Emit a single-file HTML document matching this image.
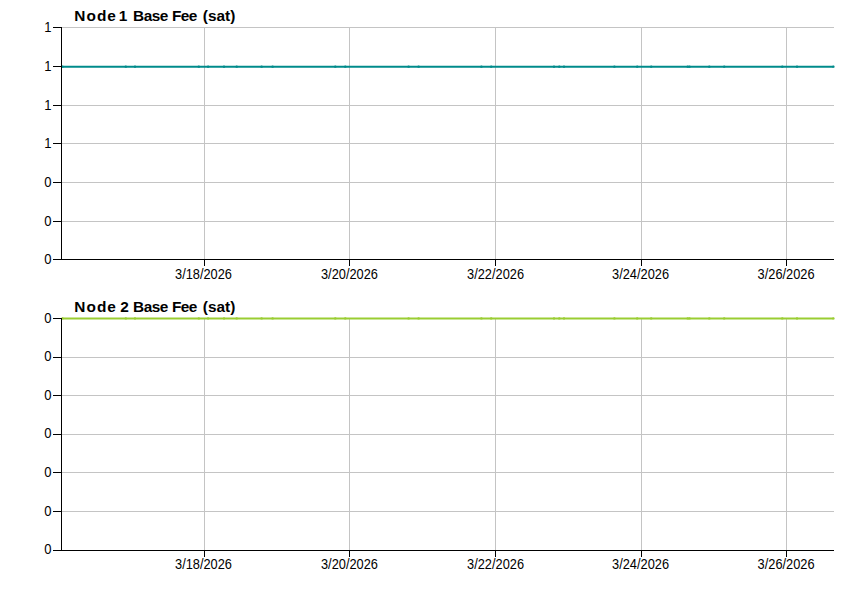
<!DOCTYPE html>
<html lang="en">
<head>
<meta charset="utf-8">
<title>Node Base Fee</title>
<style>
html,body{margin:0;padding:0;background:#fff;}
body{width:860px;height:600px;overflow:hidden;}
svg{display:block;}
text{font-family:"Liberation Sans",sans-serif;fill:#000;}
.t{font-weight:bold;font-size:15.4px;}
.l{font-size:14px;}
</style>
</head>
<body>
<svg width="860" height="600" viewBox="0 0 860 600">
<rect x="0" y="0" width="860" height="600" fill="#fff"/>
<g shape-rendering="crispEdges">
<rect x="204" y="27" width="1" height="232" fill="#c4c4c4"/>
<rect x="349" y="27" width="1" height="232" fill="#c4c4c4"/>
<rect x="495" y="27" width="1" height="232" fill="#c4c4c4"/>
<rect x="641" y="27" width="1" height="232" fill="#c4c4c4"/>
<rect x="786" y="27" width="1" height="232" fill="#c4c4c4"/>
<rect x="62" y="27" width="772" height="1" fill="#c4c4c4"/>
<rect x="62" y="66" width="772" height="1" fill="#c4c4c4"/>
<rect x="62" y="105" width="772" height="1" fill="#c4c4c4"/>
<rect x="62" y="143" width="772" height="1" fill="#c4c4c4"/>
<rect x="62" y="182" width="772" height="1" fill="#c4c4c4"/>
<rect x="62" y="221" width="772" height="1" fill="#c4c4c4"/>
</g>
<line x1="62" y1="66.67" x2="833.6" y2="66.67" stroke="#008B8B" stroke-width="2"/>
<g fill="#008B8B">
<circle cx="62.5" cy="66.67" r="1.2"/>
<circle cx="125.8" cy="66.67" r="1.2"/>
<circle cx="135" cy="66.67" r="1.2"/>
<circle cx="198.8" cy="66.67" r="1.2"/>
<circle cx="208.1" cy="66.67" r="1.2"/>
<circle cx="224" cy="66.67" r="1.2"/>
<circle cx="236.7" cy="66.67" r="1.2"/>
<circle cx="261.6" cy="66.67" r="1.2"/>
<circle cx="272.6" cy="66.67" r="1.2"/>
<circle cx="335.3" cy="66.67" r="1.2"/>
<circle cx="345.3" cy="66.67" r="1.2"/>
<circle cx="408.6" cy="66.67" r="1.2"/>
<circle cx="418.6" cy="66.67" r="1.2"/>
<circle cx="481.4" cy="66.67" r="1.2"/>
<circle cx="491.2" cy="66.67" r="1.2"/>
<circle cx="554" cy="66.67" r="1.2"/>
<circle cx="559.3" cy="66.67" r="1.2"/>
<circle cx="564" cy="66.67" r="1.2"/>
<circle cx="614.4" cy="66.67" r="1.2"/>
<circle cx="637.2" cy="66.67" r="1.2"/>
<circle cx="651.2" cy="66.67" r="1.2"/>
<circle cx="687.7" cy="66.67" r="1.2"/>
<circle cx="689.5" cy="66.67" r="1.2"/>
<circle cx="709.3" cy="66.67" r="1.2"/>
<circle cx="724.2" cy="66.67" r="1.2"/>
<circle cx="782.3" cy="66.67" r="1.2"/>
<circle cx="797" cy="66.67" r="1.2"/>
<circle cx="833.4" cy="66.67" r="1.2"/>
</g>
<g shape-rendering="crispEdges" fill="#000">
<rect x="61" y="27" width="1" height="233"/>
<rect x="53" y="259" width="781" height="1"/>
<rect x="53" y="27" width="8" height="1"/>
<rect x="53" y="66" width="8" height="1"/>
<rect x="53" y="105" width="8" height="1"/>
<rect x="53" y="143" width="8" height="1"/>
<rect x="53" y="182" width="8" height="1"/>
<rect x="53" y="221" width="8" height="1"/>
<rect x="204" y="260" width="1" height="6"/>
<rect x="349" y="260" width="1" height="6"/>
<rect x="495" y="260" width="1" height="6"/>
<rect x="641" y="260" width="1" height="6"/>
<rect x="786" y="260" width="1" height="6"/>
</g>
<text class="t" y="21"><tspan x="74.3" letter-spacing="1.05">Node </tspan><tspan x="118.8" letter-spacing="0">1 </tspan><tspan x="133.1" letter-spacing="-0.53">Base </tspan><tspan x="172.0" letter-spacing="-0.55">Fee </tspan><tspan x="202.8" letter-spacing="0">(sat)</tspan></text>
<text class="l" text-anchor="end" transform="translate(51.6 32) scale(0.93 1)">1</text>
<text class="l" text-anchor="end" transform="translate(51.6 71) scale(0.93 1)">1</text>
<text class="l" text-anchor="end" transform="translate(51.6 110) scale(0.93 1)">1</text>
<text class="l" text-anchor="end" transform="translate(51.6 148) scale(0.93 1)">1</text>
<text class="l" text-anchor="end" transform="translate(51.6 187) scale(0.93 1)">0</text>
<text class="l" text-anchor="end" transform="translate(51.6 226) scale(0.93 1)">0</text>
<text class="l" text-anchor="end" transform="translate(51.6 264) scale(0.93 1)">0</text>
<text class="l" text-anchor="middle" transform="translate(203.5 279) scale(0.915 1)">3/18/2026</text>
<text class="l" text-anchor="middle" transform="translate(349.45 279) scale(0.915 1)">3/20/2026</text>
<text class="l" text-anchor="middle" transform="translate(495.55 279) scale(0.915 1)">3/22/2026</text>
<text class="l" text-anchor="middle" transform="translate(640.55 279) scale(0.915 1)">3/24/2026</text>
<text class="l" text-anchor="middle" transform="translate(786.1 279) scale(0.915 1)">3/26/2026</text>
<g shape-rendering="crispEdges">
<rect x="204" y="318" width="1" height="232" fill="#c4c4c4"/>
<rect x="349" y="318" width="1" height="232" fill="#c4c4c4"/>
<rect x="495" y="318" width="1" height="232" fill="#c4c4c4"/>
<rect x="641" y="318" width="1" height="232" fill="#c4c4c4"/>
<rect x="786" y="318" width="1" height="232" fill="#c4c4c4"/>
<rect x="62" y="318" width="772" height="1" fill="#c4c4c4"/>
<rect x="62" y="357" width="772" height="1" fill="#c4c4c4"/>
<rect x="62" y="395" width="772" height="1" fill="#c4c4c4"/>
<rect x="62" y="434" width="772" height="1" fill="#c4c4c4"/>
<rect x="62" y="472" width="772" height="1" fill="#c4c4c4"/>
<rect x="62" y="511" width="772" height="1" fill="#c4c4c4"/>
</g>
<line x1="62" y1="318.4" x2="833.6" y2="318.4" stroke="#9ACD32" stroke-width="2"/>
<g fill="#9ACD32">
<circle cx="62.5" cy="318.4" r="1.2"/>
<circle cx="125.8" cy="318.4" r="1.2"/>
<circle cx="135" cy="318.4" r="1.2"/>
<circle cx="198.8" cy="318.4" r="1.2"/>
<circle cx="208.1" cy="318.4" r="1.2"/>
<circle cx="224" cy="318.4" r="1.2"/>
<circle cx="236.7" cy="318.4" r="1.2"/>
<circle cx="261.6" cy="318.4" r="1.2"/>
<circle cx="272.6" cy="318.4" r="1.2"/>
<circle cx="335.3" cy="318.4" r="1.2"/>
<circle cx="345.3" cy="318.4" r="1.2"/>
<circle cx="408.6" cy="318.4" r="1.2"/>
<circle cx="418.6" cy="318.4" r="1.2"/>
<circle cx="481.4" cy="318.4" r="1.2"/>
<circle cx="491.2" cy="318.4" r="1.2"/>
<circle cx="554" cy="318.4" r="1.2"/>
<circle cx="559.3" cy="318.4" r="1.2"/>
<circle cx="564" cy="318.4" r="1.2"/>
<circle cx="614.4" cy="318.4" r="1.2"/>
<circle cx="637.2" cy="318.4" r="1.2"/>
<circle cx="651.2" cy="318.4" r="1.2"/>
<circle cx="687.7" cy="318.4" r="1.2"/>
<circle cx="689.5" cy="318.4" r="1.2"/>
<circle cx="709.3" cy="318.4" r="1.2"/>
<circle cx="724.2" cy="318.4" r="1.2"/>
<circle cx="782.3" cy="318.4" r="1.2"/>
<circle cx="797" cy="318.4" r="1.2"/>
<circle cx="833.4" cy="318.4" r="1.2"/>
</g>
<g shape-rendering="crispEdges" fill="#000">
<rect x="61" y="318" width="1" height="233"/>
<rect x="53" y="550" width="781" height="1"/>
<rect x="53" y="318" width="8" height="1"/>
<rect x="53" y="357" width="8" height="1"/>
<rect x="53" y="395" width="8" height="1"/>
<rect x="53" y="434" width="8" height="1"/>
<rect x="53" y="472" width="8" height="1"/>
<rect x="53" y="511" width="8" height="1"/>
<rect x="204" y="551" width="1" height="6"/>
<rect x="349" y="551" width="1" height="6"/>
<rect x="495" y="551" width="1" height="6"/>
<rect x="641" y="551" width="1" height="6"/>
<rect x="786" y="551" width="1" height="6"/>
</g>
<text class="t" y="312"><tspan x="74.3" letter-spacing="1.05">Node </tspan><tspan x="120.2" letter-spacing="0">2 </tspan><tspan x="133.1" letter-spacing="-0.53">Base </tspan><tspan x="172.0" letter-spacing="-0.55">Fee </tspan><tspan x="202.8" letter-spacing="0">(sat)</tspan></text>
<text class="l" text-anchor="end" transform="translate(51.6 323) scale(0.93 1)">0</text>
<text class="l" text-anchor="end" transform="translate(51.6 361) scale(0.93 1)">0</text>
<text class="l" text-anchor="end" transform="translate(51.6 400) scale(0.93 1)">0</text>
<text class="l" text-anchor="end" transform="translate(51.6 438) scale(0.93 1)">0</text>
<text class="l" text-anchor="end" transform="translate(51.6 477) scale(0.93 1)">0</text>
<text class="l" text-anchor="end" transform="translate(51.6 516) scale(0.93 1)">0</text>
<text class="l" text-anchor="end" transform="translate(51.6 554) scale(0.93 1)">0</text>
<text class="l" text-anchor="middle" transform="translate(203.5 569) scale(0.915 1)">3/18/2026</text>
<text class="l" text-anchor="middle" transform="translate(349.45 569) scale(0.915 1)">3/20/2026</text>
<text class="l" text-anchor="middle" transform="translate(495.55 569) scale(0.915 1)">3/22/2026</text>
<text class="l" text-anchor="middle" transform="translate(640.55 569) scale(0.915 1)">3/24/2026</text>
<text class="l" text-anchor="middle" transform="translate(786.1 569) scale(0.915 1)">3/26/2026</text>
</svg>
</body>
</html>
